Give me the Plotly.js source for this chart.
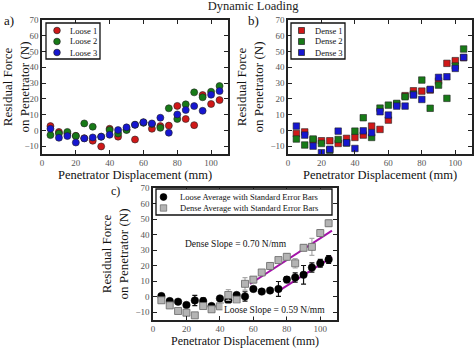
<!DOCTYPE html>
<html>
<head>
<meta charset="utf-8">
<script src="https://cdn.plot.ly/plotly-3.0.1.min.js"></script>
<style>html,body{margin:0;padding:0;background:#fff;}#chart{width:474px;height:349px;}</style>
</head>
<body>
<div id="chart"></div>
<script>
// ---- Data ----
const displacement = [5,10,15,20,25,30,35,40,45,50,55,60,65,70,75,80,85,90,95,100,105];

const loose1 = [2.7,-1,-2,-3.5,-5,-6.6,-10.2,1,-4,0.5,-5.8,5,1,2.7,3,15.5,7.2,3.3,22.4,16.7,19.2];
const loose2 = [-3,-2,-1,-3.6,4.4,2.3,-4,0.2,-2,0.2,3.5,4.8,4,1.6,14,7.2,16.5,24.1,21,24.5,28.1];
const loose3 = [1,-4.7,-3.6,-7.7,-5.1,-4.5,-4,-2.8,0.2,1.9,3.6,5.2,4.4,8,-1.5,10.1,12.9,15.4,12.4,22.6,24.9];

const dense1 = [-2,-1,-6,-6.6,-6.6,-8.3,-5.1,-4.5,-3,2.7,0.6,6.5,16.5,22,25.1,24.9,25.6,31.3,42.5,44.2,46.1];
const dense2 = [-5.5,-9.3,-5.5,-8.3,-12.6,-5.8,-8,-0.5,8,-4.5,14.1,16,17.1,21.3,23,31.9,14,28.7,20.3,40.8,51.6];
const dense3 = [2.7,-3,-10,-14.2,-12,-0.5,-7.9,-11.5,-0.3,-1.5,11.8,9.7,15.4,15.4,22.4,19.6,26,33.6,34,39.3,46.3];

const looseAvg = [0.4,-2.8,-3.2,-5.3,-2.4,-2.8,-6,-1.1,-2.4,1.1,0.2,5,3.3,4,5,11,12.4,14.1,18.8,21.5,24];
const looseErr = [1,1,1,1,3.3,2,1,1,2.5,1,3,1,1,1,4.8,2,3,6,3,2.5,2.5];
const denseAvg = [-2.3,-5.6,-9.2,-10.3,-12,-6,-8.1,-6.2,1.1,-1.9,8.3,11,15.6,19.8,23.6,25.7,21.5,31.5,32.1,41,47.3];
const denseErr = [1.5,1.5,1.5,1.5,1.5,1.5,1.5,1.5,3.5,1.5,4,2,1.5,2,1.5,2,3,2,5.5,2,2];

const denseFitX = [58,107];
const denseFitY = [8.2,42.5];
const looseFitX = [74,107];
const looseFitY = [3,25.5];

const looseNames = ['Loose 1','Loose 2','Loose 3'];
const denseNames = ['Dense 1','Dense 2','Dense 3'];
const avgNames = ['Loose Average with Standard Error Bars','Dense Average with Standard Error Bars'];
const colors = ['#d01818','#177a17','#1616d0'];
const xTickVals = [0,20,40,60,80,100];
const yTickVals = [-10,0,10,20,30,40,50,60,70];

const xTitle = 'Penetrator Displacement (mm)';
const yTitle = 'Residual Force<br>on Penetrator (N)';
const slopeDense = 'Dense Slope = 0.70 N/mm';
const slopeLoose = 'Loose Slope = 0.59 N/mm';

// ---- Traces ----
const serif = 'Liberation Serif, Times New Roman, serif';
const traces = [];
[loose1, loose2, loose3].forEach((ys, i) => {
  traces.push({x: displacement, y: ys, type: 'scatter', mode: 'markers', name: looseNames[i],
    xaxis: 'x', yaxis: 'y', showlegend: false,
    marker: {symbol: 'circle', size: 7, color: colors[i], line: {color: '#222', width: 0.6}}});
});
[dense1, dense2, dense3].forEach((ys, i) => {
  traces.push({x: displacement, y: ys, type: 'scatter', mode: 'markers', name: denseNames[i],
    xaxis: 'x2', yaxis: 'y2', showlegend: false,
    marker: {symbol: 'square', size: 6.5, color: colors[i], line: {color: '#222', width: 0.6}}});
});
traces.push({x: denseFitX, y: denseFitY, type: 'scatter', mode: 'lines', showlegend: false, name: 'Dense fit',
  xaxis: 'x3', yaxis: 'y3', line: {color: '#a313a8', width: 2}});
traces.push({x: looseFitX, y: looseFitY, type: 'scatter', mode: 'lines', showlegend: false, name: 'Loose fit',
  xaxis: 'x3', yaxis: 'y3', line: {color: '#a313a8', width: 2}});
traces.push({x: displacement, y: looseAvg, type: 'scatter', mode: 'markers', name: avgNames[0],
  xaxis: 'x3', yaxis: 'y3', showlegend: false,
  error_y: {type: 'data', array: looseErr, visible: true, color: '#111', thickness: 1.2, width: 2.5},
  marker: {symbol: 'circle', size: 7.5, color: '#000', line: {color: '#000', width: 0.5}}});
traces.push({x: displacement, y: denseAvg, type: 'scatter', mode: 'markers', name: avgNames[1],
  xaxis: 'x3', yaxis: 'y3', showlegend: false,
  error_y: {type: 'data', array: denseErr, visible: true, color: '#aaaaaa', thickness: 1.2, width: 2.5},
  marker: {symbol: 'square', size: 7, color: '#b4b4b4', line: {color: '#666', width: 0.8}}});

// ---- Layout ----
const W = 474, H = 349;
const px = (a, b) => [a / W, b / W];
const py = (top, bottom) => [(H - bottom) / H, (H - top) / H];
const PX = v => v / W, PY = v => (H - v) / H;

function xAx(dom, titleSize) {
  return {domain: dom, range: [0, 110], tickvals: xTickVals, showline: true, linecolor: '#222', linewidth: 1.6,
    mirror: 'ticks', ticks: 'inside', ticklen: 4, tickwidth: 1, tickcolor: '#222', showgrid: false, zeroline: false,
    tickfont: {family: serif, size: 9, color: '#555'},
    title: {text: xTitle, font: {family: serif, size: titleSize, color: '#111'}, standoff: 1}};
}
function yAx(dom, anchor) {
  return {domain: dom, anchor: anchor, range: [-15, 70], tickvals: yTickVals, showline: true, linecolor: '#222', linewidth: 1.6,
    mirror: 'ticks', ticks: 'inside', ticklen: 4, tickwidth: 1, tickcolor: '#222', showgrid: false, zeroline: false,
    tickfont: {family: serif, size: 9, color: '#555'},
    title: {text: yTitle, font: {family: serif, size: 13, color: '#111'}, standoff: 4}};
}

// compact legends built from shapes + annotations (pixel positions of the legend boxes)
const shapes = [];
const annotations = [];
function legendBox(x0, y0, x1, y1) {
  shapes.push({type: 'rect', xref: 'paper', yref: 'paper', x0: PX(x0), x1: PX(x1), y0: PY(y1), y1: PY(y0),
    fillcolor: '#fff', line: {color: '#111', width: 1.3}, layer: 'above'});
}
function legendItem(cx, cy, kind, fill, edge, label, tx, r) {
  shapes.push({type: kind, xref: 'paper', yref: 'paper', x0: PX(cx - r), x1: PX(cx + r), y0: PY(cy + r), y1: PY(cy - r),
    fillcolor: fill, line: {color: edge, width: 0.7}, layer: 'above'});
  annotations.push({text: label, xref: 'paper', yref: 'paper', x: PX(tx), y: PY(cy), xanchor: 'left', yanchor: 'middle',
    showarrow: false, font: {family: serif, size: 8.5, color: '#111'}});
}
legendBox(46, 23, 100, 59);
looseNames.forEach((n, i) => legendItem(57, 30.5 + i * 11, 'circle', colors[i], '#222', n, 68, 3.3));
legendBox(291, 23, 345, 59);
denseNames.forEach((n, i) => legendItem(301.5, 30.5 + i * 11, 'rect', colors[i], '#222', n, 313, 3));
legendBox(156, 189, 332, 215);
legendItem(163.5, 197, 'circle', '#000', '#000', avgNames[0], 178, 3.4);
legendItem(163.5, 208, 'rect', '#b4b4b4', '#666', avgNames[1], 178, 3.2);

annotations.push(
  {text: 'a)', xref: 'paper', yref: 'paper', x: PX(2), y: PY(20), xanchor: 'left', yanchor: 'middle', showarrow: false, font: {family: serif, size: 13, color: '#111'}},
  {text: 'b)', xref: 'paper', yref: 'paper', x: PX(246), y: PY(20), xanchor: 'left', yanchor: 'middle', showarrow: false, font: {family: serif, size: 13, color: '#111'}},
  {text: 'c)', xref: 'paper', yref: 'paper', x: PX(109), y: PY(191), xanchor: 'left', yanchor: 'middle', showarrow: false, font: {family: serif, size: 12, color: '#111'}},
  {text: slopeDense, xref: 'x3', yref: 'y3', x: 49.5, y: 33.8, showarrow: false, font: {family: serif, size: 9.5, color: '#111'}},
  {text: slopeLoose, xref: 'x3', yref: 'y3', x: 72.5, y: -8.7, showarrow: false, bgcolor: '#fff', font: {family: serif, size: 9.5, color: '#111'}}
);

const layout = {
  width: W, height: H, margin: {l: 0, r: 0, t: 0, b: 0}, paper_bgcolor: '#fff', plot_bgcolor: '#fff',
  font: {family: serif}, showlegend: false,
  title: {text: 'Dynamic Loading', font: {family: serif, size: 12.5, color: '#222'}, x: 0.534, xanchor: 'center', y: 0.984, yanchor: 'middle'},
  xaxis: Object.assign(xAx(px(42, 228), 12.5), {anchor: 'y'}),
  yaxis: yAx(py(20, 154), 'x'),
  xaxis2: Object.assign(xAx(px(288, 472), 12.5), {anchor: 'y2'}),
  yaxis2: yAx(py(20, 154), 'x2'),
  xaxis3: Object.assign(xAx(px(153, 337), 12), {anchor: 'y3'}),
  yaxis3: yAx(py(188, 320), 'x3'),
  shapes: shapes,
  annotations: annotations
};

Plotly.newPlot('chart', traces, layout, {displayModeBar: false, staticPlot: true});
</script>
</body>
</html>
